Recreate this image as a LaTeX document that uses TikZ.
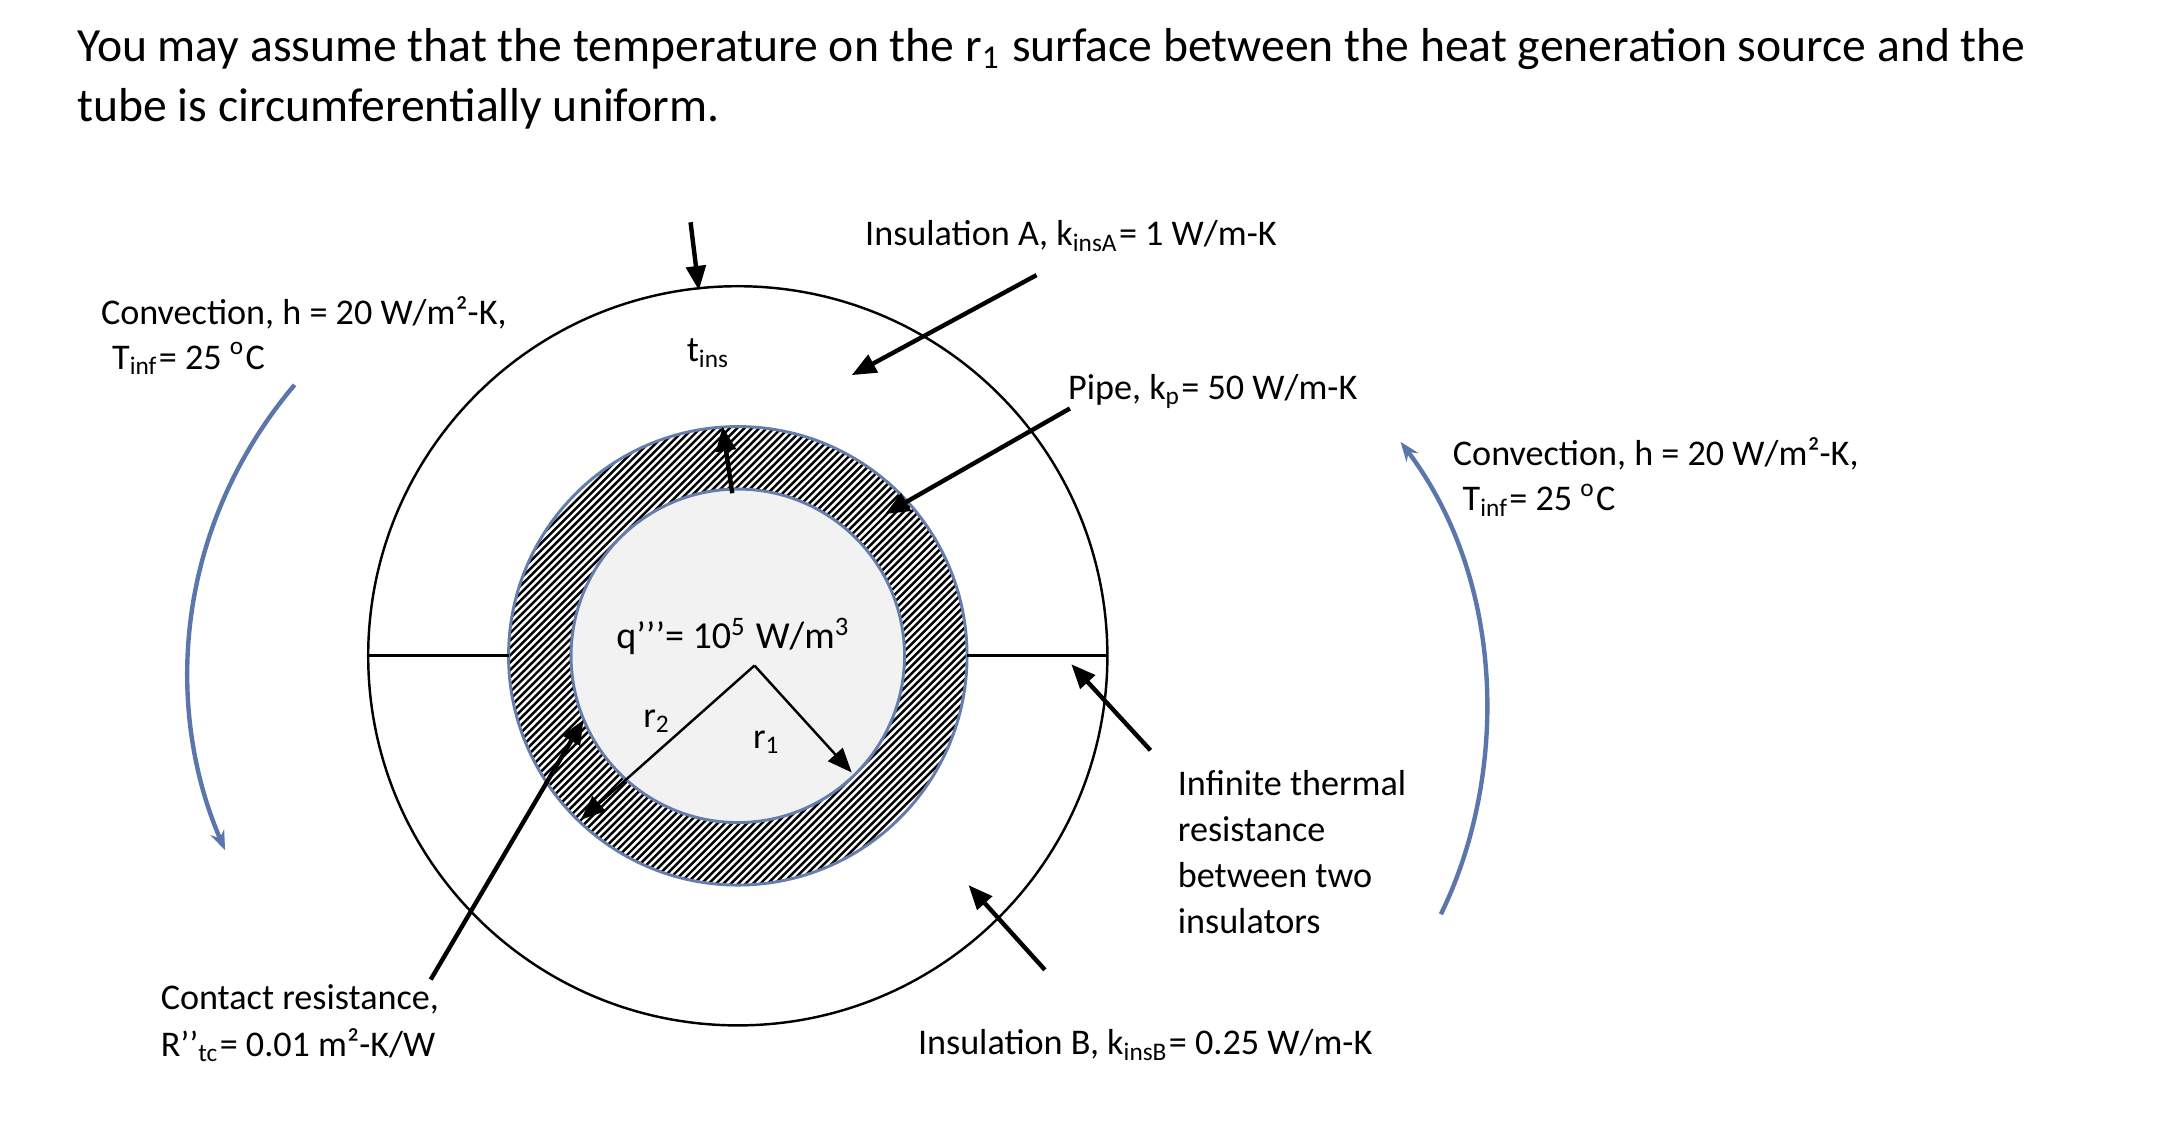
\documentclass[tikz,border=0pt]{standalone}
\usepackage{fontspec}
\setmainfont{Carlito}
\usetikzlibrary{arrows.meta,calc}
\begin{document}
\begin{tikzpicture}[x=0.01cm,y=-0.01cm,
  lbl/.style={font=\fontsize{7.4}{8.8}\selectfont,inner sep=0pt,anchor=west},
  ttl/.style={font=\fontsize{9.75}{11}\selectfont,inner sep=0pt,anchor=west},
  arr/.style={-{Triangle[length=5pt,width=4pt]},line width=0.9pt},
  thin/.style={-{Triangle[length=5pt,width=4pt]},line width=0.5pt},
  blue arc/.style={-{Stealth[length=4pt,width=3pt]},draw={rgb,255:red,90;green,118;blue,170},line width=0.9pt}]
\useasboundingbox (0,0) rectangle (1556,810);
\node[ttl] (t1) at (55,35) {You may assume that the temperature on the r\textsubscript{1} surface between the heat generation source and the};
\node[ttl] (t2) at (55,78) {tube is circumferentially uniform.};
\coordinate (C) at (531,472);
% outer circle
\draw[line width=0.5pt] (C) circle (266);
% hatched pipe
\begin{scope}
  \clip (C) circle (165);
  \foreach \i in {-75,...,75} {
    \draw[line width=0.5pt] ($(C)+(\i*5.3-400,400)$) -- ++(800,-800);
  }
\end{scope}
\draw[line width=0.6pt,draw={rgb,255:red,100;green,125;blue,170}] (C) circle (165);
\fill[black!5] (C) circle (120);
\draw[line width=0.6pt,draw={rgb,255:red,100;green,125;blue,170}] (C) circle (120);
% horizontal separators
\coordinate (hl1) at (265,472); \coordinate (hl2) at (366,472);
\coordinate (hr1) at (696,472); \coordinate (hr2) at (797,472);
\draw[line width=0.6pt] (hl1) -- (hl2);
\draw[line width=0.6pt] (hr1) -- (hr2);
% radii
\coordinate (O) at (543,479); \coordinate (R1) at (613,556); \coordinate (R2) at (418,590);
\draw[thin] (O) -- (R1);
\draw[thin] (O) -- (R2);
\node[lbl,anchor=center] (r2) at (473,519) {r\textsubscript{2}};
\node[lbl,anchor=center] (r1) at (552,534) {r\textsubscript{1}};
\node[lbl,anchor=center,font=\fontsize{7.8}{8}\selectfont] (q) at (528,458) {q’’’= 10\textsuperscript{5} W/m\textsuperscript{3}};
% tins
\node[lbl,anchor=center] (tins) at (510,254) {t\textsubscript{ins}};
\coordinate (ta1) at (497,160); \coordinate (ta2) at (503,209);
\draw[arr] (ta1) -- (ta2);
\coordinate (tb1) at (527,355); \coordinate (tb2) at (520,307);
\draw[arr] (tb1) -- (tb2);
% Insulation A
\node[lbl] (insA) at (622,170) {Insulation A, k\textsubscript{insA}= 1 W/m-K};
\coordinate (a1) at (746,198); \coordinate (a2) at (613,270);
\draw[arr] (a1) -- (a2);
% Pipe
\node[lbl] (pipe) at (768,282) {Pipe, k\textsubscript{p}= 50 W/m-K};
\coordinate (p1) at (770,294); \coordinate (p2) at (637,370);
\draw[arr] (p1) -- (p2);
% Convection left
\node[lbl] (cl1) at (72,225) {Convection, h = 20 W/m²-K,};
\node[lbl] (cl2) at (80,258) {T\textsubscript{inf}= 25 \textsuperscript{o}C};
\coordinate (bl1) at (212,277); \coordinate (bl2) at (162,612);
\draw[blue arc] (bl1) .. controls (125,380) and (118,510) .. (bl2);
% Convection right
\node[lbl] (cr1) at (1045,327) {Convection, h = 20 W/m²-K,};
\node[lbl] (cr2) at (1052,360) {T\textsubscript{inf}= 25 \textsuperscript{o}C};
\coordinate (br1) at (1037,658); \coordinate (br2) at (1008,318);
\draw[blue arc] (br1) .. controls (1085,560) and (1085,420) .. (br2);
% Infinite thermal resistance
\node[lbl,align=left,font=\fontsize{7.4}{9.4}\selectfont] (inf) at (847,613) {Infinite thermal\\resistance\\between two\\insulators};
\coordinate (i1) at (828,540); \coordinate (i2) at (771,478);
\draw[arr] (i1) -- (i2);
\coordinate (j1) at (752,698); \coordinate (j2) at (697,637);
\draw[arr] (j1) -- (j2);
% Contact resistance
\node[lbl] (cr) at (115,719) {Contact resistance,};
\node[lbl] (crv) at (115,752) {R’’\textsubscript{tc}= 0.01 m²-K/W};
\coordinate (c1) at (310,705); \coordinate (c2) at (420,518);
\draw[arr] (c1) -- (c2);
% Insulation B
\node[lbl] (insB) at (660,752) {Insulation B, k\textsubscript{insB}= 0.25 W/m-K};
\end{tikzpicture}
\end{document}
